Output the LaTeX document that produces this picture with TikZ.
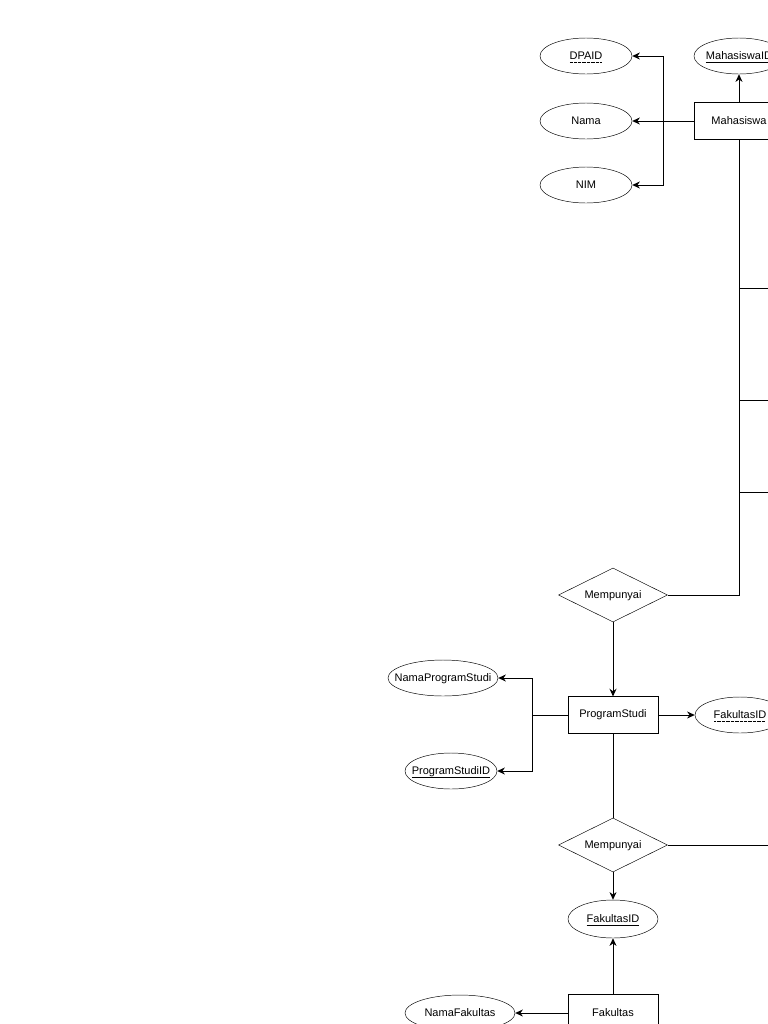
\documentclass[tikz,border=0pt]{standalone}
\usepackage{fontspec}
\setmainfont{Liberation Sans}
\usetikzlibrary{shapes.geometric,arrows.meta}

% garis bawah penuh dan bertitik
\newcommand\garisbawah[1]{\setbox0\hbox{#1}\leavevmode\rlap{\raisebox{-2pt}{\rule{\wd0}{0.5pt}}}\box0}
\newcommand\titikbawah[1]{\setbox0\hbox{#1}\leavevmode\rlap{\raisebox{-2pt}{\hbox to\wd0{\leaders\hbox to 1.1pt{\hss\rule{0.55pt}{0.5pt}\hss}\hfill}}}\box0}
% isi tanpa ukuran, bentuk ditentukan minimum width/height
\newcommand\teks[1]{\makebox[0pt]{\smash{\raisebox{-0.36em}{#1}}}}

\begin{document}
\begin{tikzpicture}[x=0.03cm,y=-0.03cm,
  every node/.style={font=\fontsize{9.4}{11}\selectfont},
  entitas/.style={draw,rectangle,minimum width=2.7cm,minimum height=1.1cm,inner sep=0pt},
  atribut/.style={draw,ellipse,minimum width=2.7cm,minimum height=1.08cm,inner sep=0pt},
  relasi/.style={draw,diamond,minimum width=3.27cm,minimum height=1.62cm,inner sep=0pt},
  garis/.style={line width=0.8pt},
  panah/.style={garis,-{Stealth[length=2.3mm,width=2.1mm]}}]

\useasboundingbox (0,0) rectangle (768,1024);
\clip (0,0) rectangle (768,1024);

% Mahasiswa
\node[entitas] (mhs) at (739,121) {Mahasiswa};
\node[atribut] (mhsid) at (739,56) {\teks{\garisbawah{MahasiswaID}}};
\node[atribut,minimum width=2.76cm] (dpaid) at (586,56) {\teks{\titikbawah{DPAID}}};
\node[atribut,minimum width=2.76cm] (nama) at (586,121) {\teks{Nama}};
\node[atribut,minimum width=2.76cm] (nim) at (586,185) {\teks{NIM}};

\coordinate (cabmhs) at (663,121);
\draw[panah] (mhs.north) -- (mhsid.south);
\draw[panah] (mhs.west) -- (nama.east);
\draw[panah] (cabmhs) |- (dpaid.east);
\draw[panah] (cabmhs) |- (nim.east);

% Relasi pertama
\node[relasi] (rel1) at (613,595) {\teks{Mempunyai}};
\draw[garis] (mhs.south) |- (rel1.east);
\foreach \y/\n in {288/a,400/b,492/c}{
  \coordinate (cab\n) at (739,\y);
  \coordinate (ujung\n) at (790,\y);
  \draw[garis] (cab\n) -- (ujung\n);
}

% ProgramStudi
\node[entitas] (prodi) at (613,715) {ProgramStudi};
\node[atribut,minimum width=3.3cm] (namaprodi) at (443,678) {\teks{NamaProgramStudi}};
\node[atribut,minimum width=2.76cm] (prodiid) at (451,771) {\teks{\garisbawah{ProgramStudiID}}};
\node[atribut] (fakid1) at (740,715) {\teks{\titikbawah{FakultasID}}};

\coordinate (cabprodi) at (532,715);
\draw[panah] (rel1.south) -- (prodi.north);
\draw[garis] (prodi.west) -- (cabprodi);
\draw[panah] (cabprodi) |- (namaprodi.east);
\draw[panah] (cabprodi) |- (prodiid.east);
\draw[panah] (prodi.east) -- (fakid1.west);

% Relasi kedua
\node[relasi] (rel2) at (613,845) {\teks{Mempunyai}};
\coordinate (ujungd) at (790,845);
\draw[garis] (prodi.south) -- (rel2.north);
\draw[garis] (rel2.east) -- (ujungd);

% Fakultas
\node[atribut,minimum height=1.14cm] (fakid2) at (613,919) {\teks{\garisbawah{FakultasID}}};
\node[entitas] (fak) at (613,1013) {Fakultas};
\node[atribut,minimum width=3.3cm] (namafak) at (460,1013) {\teks{NamaFakultas}};

\draw[panah] (rel2.south) -- (fakid2.north);
\draw[panah] (fak.north) -- (fakid2.south);
\draw[panah] (fak.west) -- (namafak.east);
\end{tikzpicture}
\end{document}
